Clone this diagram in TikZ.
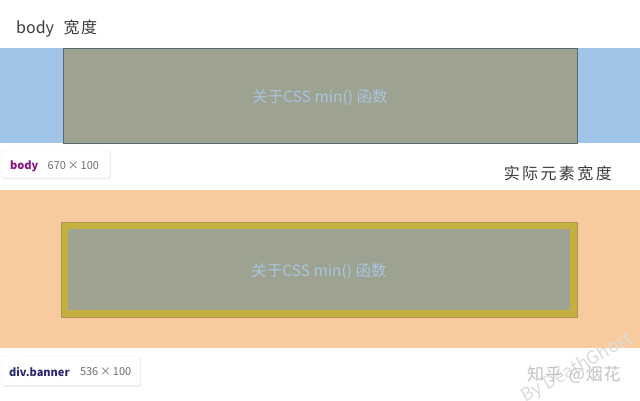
\documentclass[tikz,border=0pt]{standalone}
\usepackage{fontspec}
\setmainfont{Noto Sans CJK SC}
\newfontfamily\cjk{Noto Sans CJK SC}
\usetikzlibrary{shadows}
\definecolor{bandblue}{RGB}{160,196,232}
\definecolor{boxgray}{RGB}{158,163,145}
\definecolor{boxedge}{RGB}{90,105,110}
\definecolor{bandorange}{RGB}{248,203,158}
\definecolor{yborder}{RGB}{196,176,64}
\definecolor{yedge}{RGB}{168,150,80}
\definecolor{labelblue}{RGB}{168,196,224}
\definecolor{textgray}{RGB}{60,60,60}
\definecolor{tagpurple}{RGB}{136,18,128}
\definecolor{tagnavy}{RGB}{40,40,110}
\definecolor{dimgray}{RGB}{110,110,110}
\definecolor{wmgray}{RGB}{195,195,195}
\tikzset{
  caption/.style={font=\cjk\fontsize{16}{18}\selectfont, text=textgray, inner sep=0pt},
  centertext/.style={font=\cjk\fontsize{15.5}{17}\selectfont, text=labelblue, inner sep=0pt},
  tipbox/.style={fill=white, draw=black!8, rounded corners=2pt, drop shadow={opacity=0.18, shadow xshift=0.5pt, shadow yshift=-1pt}},
  tiptext/.style={font=\cjk\fontsize{11}{13}\selectfont, inner sep=0pt, anchor=west},
}
\begin{document}
\begin{tikzpicture}[x=1pt,y=-1pt]
\useasboundingbox (0,0) rectangle (640,400);
\fill[white] (0,0) rectangle (640,400);
% top band
\fill[bandblue] (0,48) rectangle (640,143);
\node[draw=boxedge, line width=0.7pt, fill=boxgray, minimum width=514pt, minimum height=95pt, inner sep=0pt] (body) at (320,95.5) {};
\node[centertext] (t1) at (320,97) {关于CSS min() 函数};
\node[caption, anchor=west] (cap1) at (16,29) {body\hspace{0.6em}宽\hspace{0.1em}度};
% body tooltip
\node[tipbox, minimum width=108pt, minimum height=29pt, inner sep=0pt] (tip1) at (56,163.5) {};
\node[tiptext, text=tagpurple] (tip1a) at (10,166) {\textbf{body}};
\node[tiptext, text=dimgray] (tip1b) at ([xshift=9pt]tip1a.east) {670\,×\,100};
% second band
\fill[bandorange] (0,190) rectangle (640,348);
\node[caption, anchor=east] (cap2) at (612,173) {实\hspace{0.15em}际\hspace{0.15em}元\hspace{0.15em}素\hspace{0.15em}宽\hspace{0.15em}度};
\node[draw=yedge, line width=0.8pt, fill=yborder, minimum width=516pt, minimum height=95pt, inner sep=0pt] (banner) at (319,269.5) {};
\node[fill=boxgray, minimum width=502pt, minimum height=81pt, inner sep=0pt] (inner) at (319,269.5) {};
\node[centertext] (t2) at (319,271) {关于CSS min() 函数};
% banner tooltip
\node[tipbox, minimum width=138pt, minimum height=29pt, inner sep=0pt] (tip2) at (71,371) {};
\fill[white] (11,357) -- (17,351) -- (23,357) -- cycle;
\node[tiptext, text=tagnavy] (tip2a) at (9,372) {\textbf{div.banner}};
\node[tiptext, text=dimgray] (tip2b) at ([xshift=10pt]tip2a.east) {536\,×\,100};
% watermark
\node[font=\fontsize{18}{20}\selectfont, text=wmgray!60, rotate=29, inner sep=0pt] (wm2) at (577,368) {By DeathGhost};
\node[font=\cjk\fontsize{17}{19}\selectfont, text=wmgray, anchor=west, inner sep=0pt] (wm1) at (527,375) {知\hspace{0.05em}乎\hspace{0.4em}@\hspace{0.05em}烟\hspace{0.05em}花};
\end{tikzpicture}
\end{document}
